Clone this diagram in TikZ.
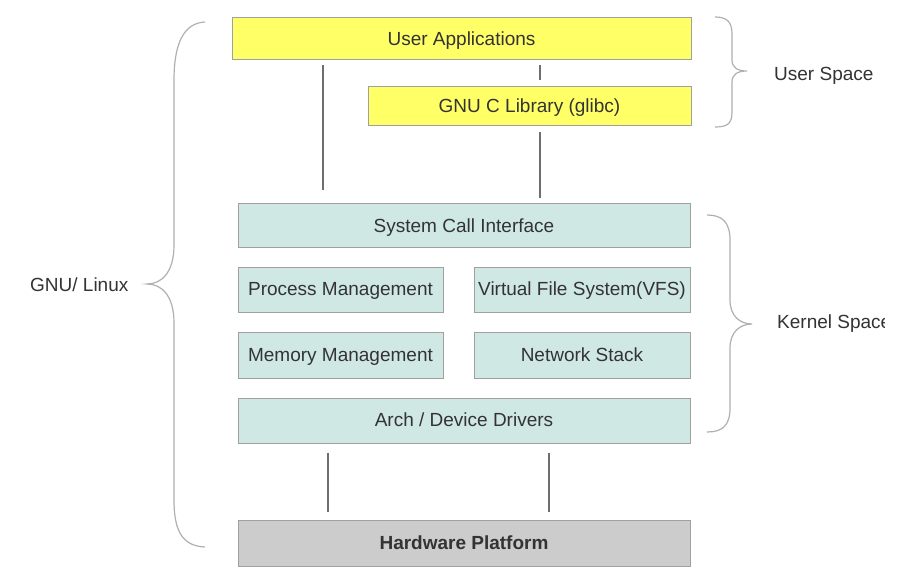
\documentclass[tikz,border=0pt]{standalone}
\usepackage{fontspec}
\setmainfont{Liberation Sans}
\definecolor{uyellow}{RGB}{255,255,102}
\definecolor{kteal}{RGB}{208,232,228}
\definecolor{hwgray}{RGB}{204,204,204}
\definecolor{bordergray}{RGB}{160,160,160}
\definecolor{txtgray}{RGB}{51,51,51}
\definecolor{linegray}{RGB}{110,110,110}
\definecolor{bracegray}{RGB}{176,176,176}
\begin{document}
\begin{tikzpicture}[x=1pt,y=-1pt,
  box/.style={draw=bordergray, line width=1pt, rectangle, inner sep=0pt, text=txtgray,
    text height=15pt, text depth=2.4pt,
    font=\fontsize{19}{23}\selectfont},
  ubox/.style={box, fill=uyellow},
  kbox/.style={box, fill=kteal},
  hbox/.style={box, fill=hwgray, font=\fontsize{19}{23}\selectfont\bfseries},
  conn/.style={draw=linegray, line width=1.2pt},
  brace/.style={draw=bracegray, line width=1.2pt},
  lbl/.style={text=txtgray, font=\fontsize{19}{23}\selectfont, inner sep=0pt,
    text height=15pt, text depth=2.4pt}]
\useasboundingbox (0,0) rectangle (906,583);
\fill[white] (0,0) rectangle (906,583);

% boxes
\node[ubox, minimum width=459pt, minimum height=42pt] (ua) at (461.5,39) {User Applications};
\node[ubox, minimum width=323pt, minimum height=39pt] (glibc) at (529.5,106.5) {GNU C Library (glibc)};
\node[kbox, minimum width=452pt, minimum height=44pt] (sci) at (464,226) {System Call Interface};
\node[kbox, minimum width=205pt, minimum height=45pt] (pm) at (340.5,289.5) {Process Management};
\node[kbox, minimum width=216pt, minimum height=45pt] (vfs) at (582,289.5) {Virtual File System(VFS)};
\node[kbox, minimum width=205pt, minimum height=46pt] (mm) at (340.5,355) {Memory Management};
\node[kbox, minimum width=216pt, minimum height=46pt] (ns) at (582,355) {Network Stack};
\node[kbox, minimum width=452pt, minimum height=45pt] (add) at (464,420.5) {Arch / Device Drivers};
\node[hbox, minimum width=452pt, minimum height=46pt] (hw) at (464,543) {Hardware Platform};

% connector columns
\coordinate (c1) at (323,0);
\coordinate (c2) at (540,0);
\coordinate (c3) at (328,0);
\coordinate (c4) at (549,0);

\draw[conn, shorten <=5pt, shorten >=13pt] (ua.south -| c1) -- (sci.north -| c1);
\draw[conn, shorten <=5pt, shorten >=6pt] (ua.south -| c2) -- (glibc.north -| c2);
\draw[conn, shorten <=6pt, shorten >=5pt] (glibc.south -| c2) -- (sci.north -| c2);
\draw[conn, shorten <=9pt, shorten >=8pt] (add.south -| c3) -- (hw.north -| c3);
\draw[conn, shorten <=9pt, shorten >=8pt] (add.south -| c4) -- (hw.north -| c4);

% left brace
\draw[brace] (205,22) .. controls (183,23) and (174,45) .. (174,80) -- (174,245)
  .. controls (174,272) and (162,284) .. (147,284)
  .. controls (162,284) and (174,296) .. (174,323) -- (174,500)
  .. controls (174,532) and (183,546) .. (205,547);
% user space brace
\draw[brace] (715,17) .. controls (727,17) and (732,22) .. (732,34) -- (732,60)
  .. controls (732,68) and (738,71) .. (747,71)
  .. controls (738,71) and (732,74) .. (732,82) -- (732,112)
  .. controls (732,124) and (727,127) .. (715,127);
% kernel space brace
\draw[brace] (707,215) .. controls (722,215) and (730,222) .. (730,240) -- (730,300)
  .. controls (730,316) and (740,324) .. (752,324)
  .. controls (740,324) and (730,332) .. (730,348) -- (730,408)
  .. controls (730,426) and (722,432) .. (707,432);

% labels
\node[lbl, anchor=west] (gl) at (30,285) {GNU/ Linux};
\node[lbl, anchor=west] (us) at (774,74) {User Space};
\begin{scope}
\clip (760,300) rectangle (884,345);
\node[lbl, anchor=west] (ks) at (777,322) {Kernel Space};
\end{scope}
\end{tikzpicture}
\end{document}
